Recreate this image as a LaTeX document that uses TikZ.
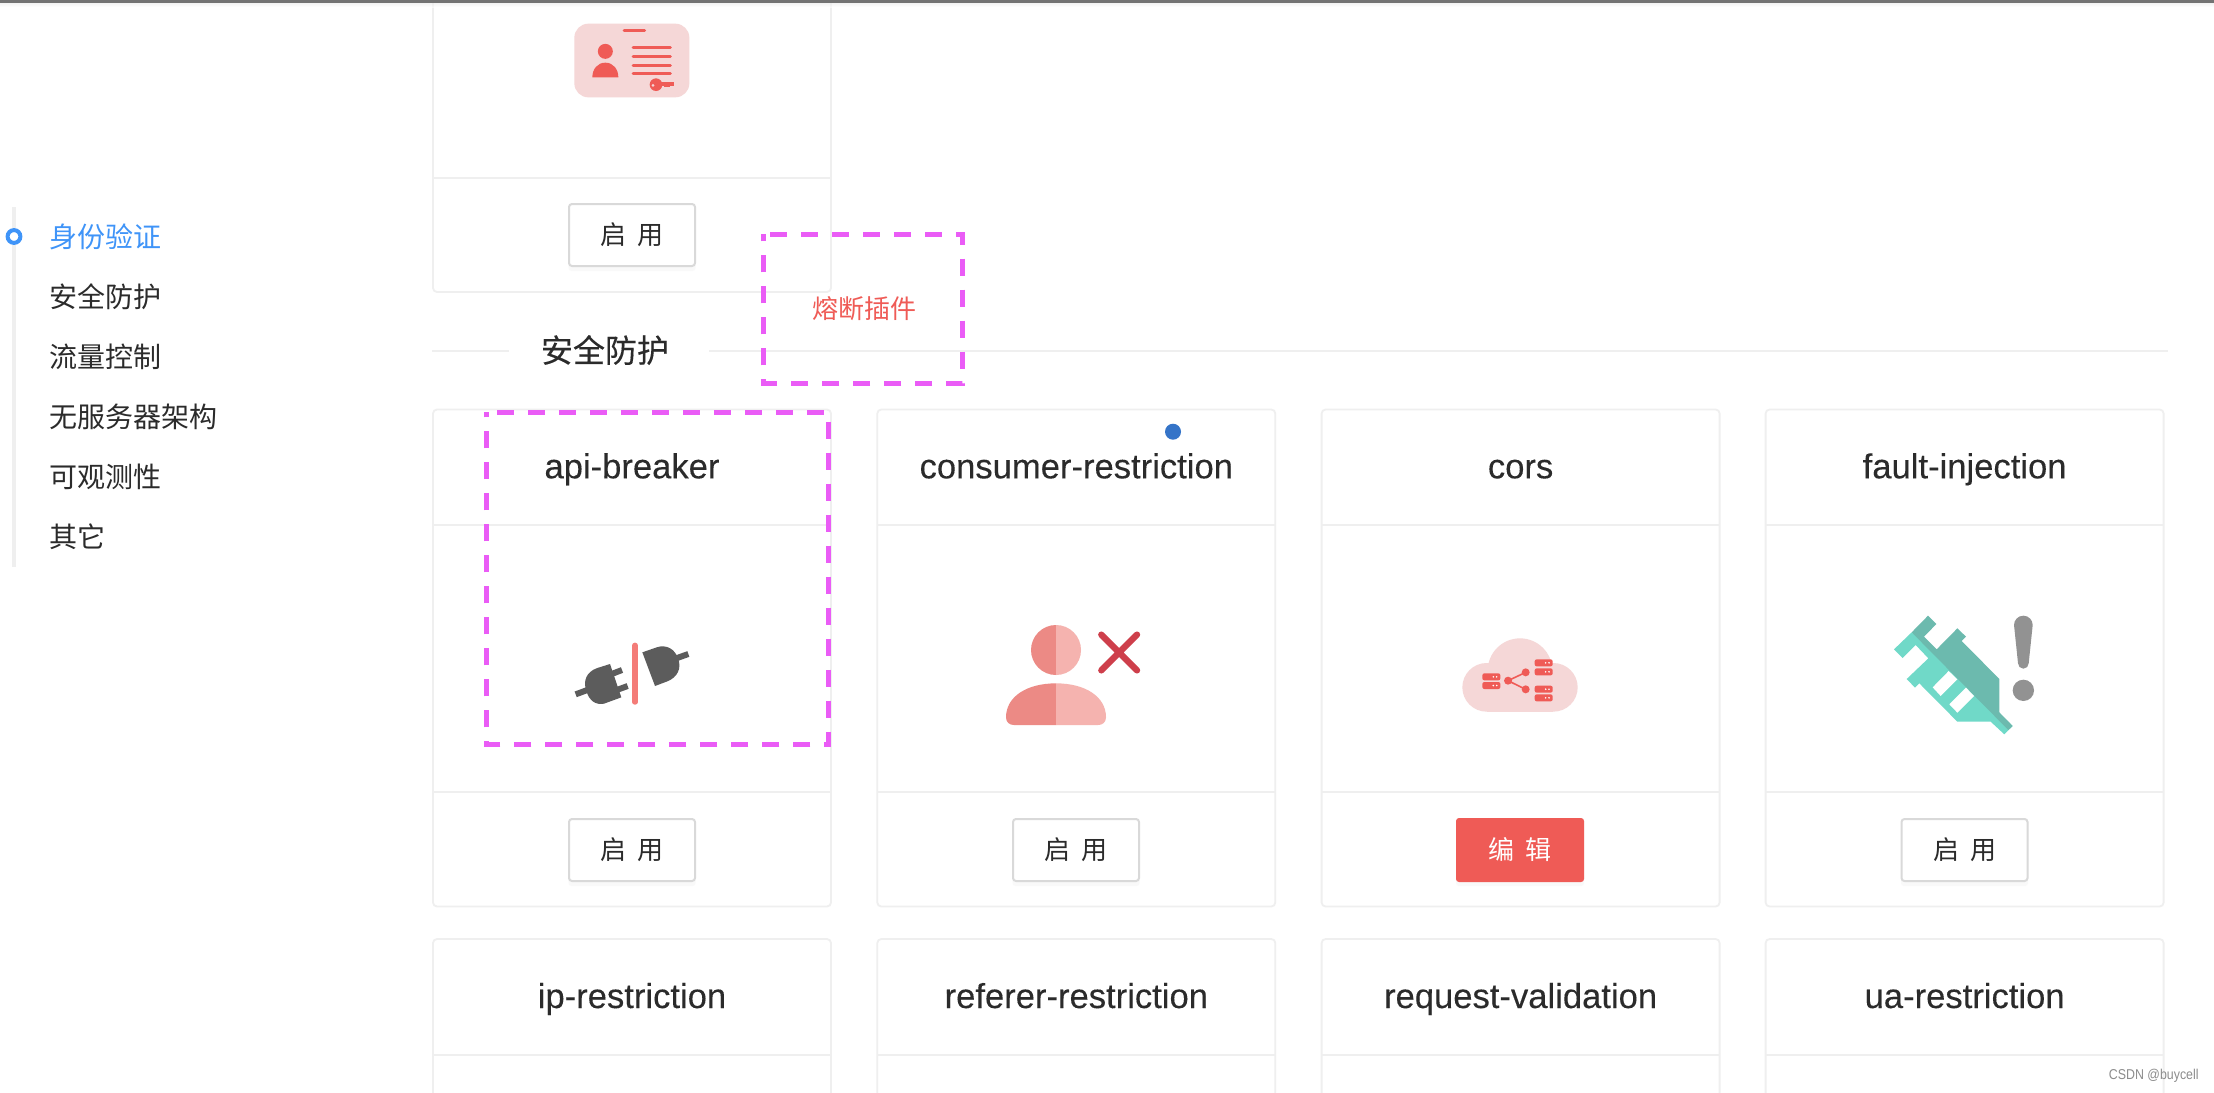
\documentclass[tikz,border=0pt]{standalone}
\usepackage{fontspec}
\setmainfont{Liberation Sans}
\newfontfamily\cjk{Noto Sans CJK SC}
\newfontfamily\cjkmed[FakeBold=0.3]{Noto Sans CJK SC}
\newfontfamily\ttlfont[FakeBold=0.15]{Liberation Sans}
\definecolor{cardline}{HTML}{EFEFEF}
\definecolor{btnline}{HTML}{D9D9D9}
\definecolor{inktext}{HTML}{2B2B2B}
\definecolor{redfill}{HTML}{EF5B56}
\definecolor{palered}{HTML}{F5D7D7}
\definecolor{magdash}{HTML}{EA5CF6}
\definecolor{navblue}{HTML}{3F94F8}
\definecolor{plug}{HTML}{5C5C5C}
\definecolor{tealA}{HTML}{70D9C8}
\definecolor{tealB}{HTML}{6CBAAE}
\definecolor{barred}{HTML}{F47C78}
\definecolor{persA}{HTML}{EC8A85}
\definecolor{persB}{HTML}{F5B3AF}
\definecolor{crossred}{HTML}{CE3F4B}
\definecolor{exclgrey}{HTML}{929292}
\definecolor{dotblue}{HTML}{3574C8}
\tikzset{
  x=0.5pt,y=-0.5pt,
  cardbox/.style={draw=cardline,line width=0.9pt,rounded corners=2pt,fill=white},
  cardsep/.style={draw=cardline,line width=0.9pt},
  navtext/.style={anchor=west,inner sep=0,text=inktext,font=\cjk\fontsize{14}{14}\selectfont},
  titletext/.style={anchor=base,inner sep=0,text=inktext,font=\ttlfont\fontsize{17.3}{17.3}\selectfont},
  btntext/.style={inner sep=0,font=\cjk\fontsize{13}{13}\selectfont},
  ghostbtn/.style={draw=btnline,line width=1pt,rounded corners=1.5pt,fill=white},
  redbtn/.style={fill=redfill,rounded corners=1.5pt},
  shadowbtn/.style={fill=black!2.5,rounded corners=1.5pt},
  magbox/.style={draw=magdash,line width=2.5pt,dash pattern=on 8.5pt off 7pt},
  zoomed/.style={shift={#1},x=0.1666667pt,y=-0.1666667pt},
}
\begin{document}
\begin{tikzpicture}
\useasboundingbox (0,0) rectangle (2214,1092);
\clip (0,0) rectangle (2214,1092);
\fill[white] (0,0) rectangle (2214,1092);
% side nav
\fill[cardline] (12,207) rectangle (16,567);
\draw[navblue,line width=2pt,fill=white] (14,236.5) circle (6.4);
\node[navtext,text=navblue] (nav1) at (49,237) {身份验证};
\node[navtext] (nav2) at (49,297) {安全防护};
\node[navtext] (nav3) at (49,357) {流量控制};
\node[navtext] (nav4) at (49,417) {无服务器架构};
\node[navtext] (nav5) at (49,477) {可观测性};
\node[navtext] (nav6) at (49,537) {其它};
% top card
\draw[cardbox] (433,-20) rectangle (831,292);
\draw[cardsep] (433,178) -- (831,178);
% top bar
\shade[top color=black!8,bottom color=white,opacity=0.6] (0,3) rectangle (2214,7);
\fill[black!55] (0,0) rectangle (2214,3);
% section heading
\draw[cardsep] (432,351) -- (509,351);
\draw[cardsep] (709,351) -- (2168,351);
\node[inner sep=0,text=inktext,font=\cjkmed\fontsize{16}{16}\selectfont] (section) at (605,350) {安全防护};
% cards
\foreach \x/\ttl/\nm in {433/api-breaker/a,877.3/consumer-restriction/b,1321.6/cors/c,1765.6/fault-injection/d}{
  \draw[cardbox] (\x,409.5) rectangle (\x+398,906.5);
  \draw[cardsep] (\x,525) -- (\x+398,525);
  \draw[cardsep] (\x,792) -- (\x+398,792);
  \node[titletext] (title\nm) at (\x+199,478.3) {\ttl};
}
\foreach \x/\ttl/\nm in {433/ip-restriction/e,877.3/referer-restriction/f,1321.6/request-validation/g,1765.6/ua-restriction/h}{
  \draw[cardbox] (\x,939) rectangle (\x+398,1130);
  \draw[cardsep] (\x,1055) -- (\x+398,1055);
  \node[titletext] (title\nm) at (\x+199,1008) {\ttl};
}
% buttons
\foreach \x/\y/\nm in {632/235/p,632/850/q,1076/850/r,1964.5/850/s}{
  \fill[shadowbtn] (\x-63.5,\y-30) rectangle (\x+63.5,\y+36);
  \draw[ghostbtn] (\x-63,\y-31) rectangle (\x+63,\y+31);
  \node[btntext,text=inktext] (btn\nm) at (\x,\y) {\spaceskip=5.5pt\relax 启 用};
}
\fill[shadowbtn] (1456,825) rectangle (1584,886);
\fill[redbtn] (1456,818) rectangle (1584,882);
\node[btntext,text=white] (btnt) at (1520,850) {\spaceskip=5.5pt\relax 编 辑};
% id-card icon (zoom 560,10)
\begin{scope}[zoomed={(560,10)}]
  \fill[palered,rounded corners=7pt] (43,41) rectangle (388,262);
  \draw[redfill,line width=1.5pt,line cap=round] (192,60) -- (254,60);
  \fill[redfill] (136,124) circle (22.5);
  \fill[redfill] (97,202) .. controls (97,178) and (112,158) .. (136,158) .. controls (160,158) and (175,178) .. (175,202) -- cycle;
  \draw[redfill,line width=1.5pt,line cap=round] (219,112) -- (331,112) (219,138) -- (331,138) (219,165) -- (331,165) (219,191) -- (331,191);
  \fill[redfill] (288,224) circle (19);
  \draw[redfill,line width=2pt] (295,221) -- (341,221);
  \fill[redfill] (312,221) rectangle (330,230);
  \fill[palered] (279,226) circle (4.5);
\end{scope}
% plug icon (zoom 540,590)
\begin{scope}[zoomed={(540,590)}]
  \draw[plug,line width=3pt] (107,313) -- (150,297) (215,252) -- (246,240) (230,300) -- (263,288);
  \fill[plug] (210,222) -- (244,322) -- (192,341) .. controls (165,346) and (148,330) .. (140,306) .. controls (127,272) and (140,245) .. (172,234) -- cycle;
  \draw[plug,line width=3pt] (400,208) -- (445,192);
  \fill[plug] (307,187) -- (345,288) -- (382,274) .. controls (412,262) and (426,235) .. (414,205) .. controls (405,178) and (380,162) .. (350,172) -- cycle;
  \draw[barred,line width=2.7pt,line cap=round] (285,166) -- (285,336);
\end{scope}
% person icon (zoom 980,590)
\begin{scope}[zoomed={(980,590)}]
  \fill[persA] (228,105) arc[start angle=-90,end angle=-270,radius=75] -- cycle;
  \fill[persB] (228,105) arc[start angle=-90,end angle=90,radius=75] -- cycle;
  \fill[persA] (228,280) .. controls (140,280) and (78,320) .. (78,382) .. controls (78,398) and (90,405) .. (102,405) -- (228,405) -- cycle;
  \fill[persB] (228,280) .. controls (316,280) and (378,320) .. (378,382) .. controls (378,398) and (366,405) .. (354,405) -- (228,405) -- cycle;
  \draw[crossred,line width=3.2pt,line cap=round] (364,134) -- (471,241) (471,134) -- (364,241);
\end{scope}
% cloud icon (zoom 1440,610)
\begin{scope}[zoomed={(1440,610)}]
  \fill[palered] (140,232) circle (73);
  \fill[palered] (340,232) circle (73);
  \fill[palered] (240,182) circle (97);
  \fill[palered] (140,232) rectangle (340,305);
  \foreach \a/\b in {127/190,127/216,284/148,284/175,284/227,284/253}{
    \fill[redfill,rounded corners=1pt] (\a,\b) rectangle (\a+54,\b+21);
    \fill[white] (\a+33,\b+10.5) circle (2.7) (\a+43,\b+10.5) circle (2.7);
  }
  \draw[redfill,line width=0.8pt] (257,187) -- (204,212) -- (257,238);
  \fill[redfill] (204,212) circle (12) (257,187) circle (12) (257,238) circle (12);
\end{scope}
% syringe icon (zoom 1870,600)
\begin{scope}[zoomed={(1870,600)}]
  \fill[tealA] (125,97) -- (72,148) -- (98,174) -- (137,135) -- (175,175) -- (110,237) -- (135,263) -- (148,250) -- (262,365) -- (362,365) -- (403,403) -- (428,378) -- cycle;
  \fill[tealB] (125,97) -- (174,47) -- (199,72) -- (162,110) -- (200,148) -- (262,85) -- (288,110) -- (275,123) -- (388,237) -- (388,337) -- (428,378) -- (415,390) -- cycle;
  \fill[white] (188,262) -- (236,213) -- (262,238) -- (212,288) -- cycle;
  \fill[white] (238,313) -- (288,263) -- (312,288) -- (262,338) -- cycle;
  \fill[exclgrey] (432,75) arc[start angle=180,end angle=360,radius=28] -- (476,190) arc[start angle=0,end angle=180,radius=16] -- cycle;
  \fill[exclgrey] (460,271) circle (32);
\end{scope}
% annotations
\draw[magbox,dash phase=12.3pt] (763.6,234) -- (962.5,234) -- (962.5,383) -- (763.6,383) -- cycle;
\node[inner sep=0,text=redfill,font=\cjk\fontsize{13}{13}\selectfont] (fuse) at (864,309) {熔断插件};
\draw[magbox,dash phase=10.15pt] (486.3,412.3) -- (828.7,412.3) -- (828.7,744.3) -- (486.3,744.3) -- cycle;
\fill[dotblue] (1173,431.7) circle (8);
\node[inner sep=0,anchor=east,text=black!45,font=\fontsize{6.2}{6.2}\selectfont,yscale=1.15] (mark) at (2199,1075.5) {CSDN @buycell};
\end{tikzpicture}
\end{document}
